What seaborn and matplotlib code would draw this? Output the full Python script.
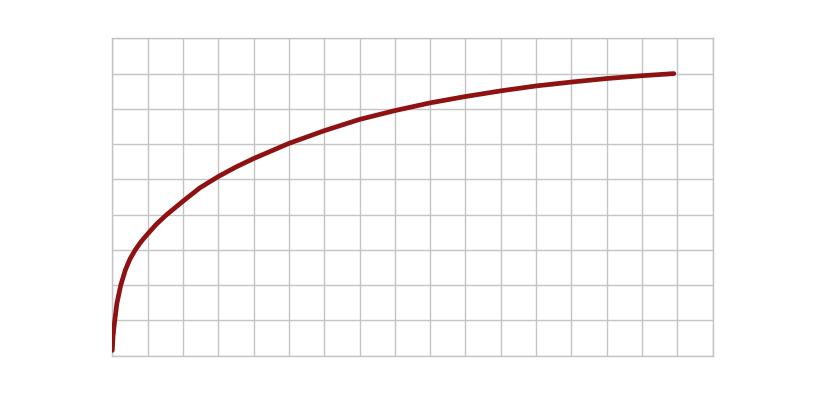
import numpy as np
import pandas as pd
import matplotlib
matplotlib.use("Agg")
import matplotlib.pyplot as plt
import seaborn as sns

# values (grid units)
x_vals = [0, 0.02, 0.07, 0.13, 0.24, 0.37, 0.5, 0.65, 0.82, 1, 1.25, 1.54, 2, 2.48, 3,
          3.5, 4, 5, 6, 7, 8, 9, 10, 11, 12, 13, 14, 15, 15.9]
y_vals = [0.15, 0.55, 1, 1.48, 2, 2.43, 2.74, 3, 3.24, 3.45, 3.73, 4, 4.38, 4.76, 5.08,
          5.35, 5.59, 6.02, 6.38, 6.70, 6.95, 7.17, 7.35, 7.51, 7.65, 7.76, 7.86, 7.94, 8.0]
x_ticks = list(range(0, 18))
y_ticks = list(range(0, 10))

df = pd.DataFrame({"x": x_vals, "y": y_vals})

sns.set_style("white")
fig = plt.figure(figsize=(8.25, 4.09), dpi=100)
ax = fig.add_axes([0.1361, 0.1303, 0.7278, 0.776])

sns.lineplot(data=df, x="x", y="y", ax=ax, color="#8f1212", linewidth=3.4,
             solid_capstyle="round", solid_joinstyle="round", sort=False, zorder=3)

ax.set_xlim(0, 17)
ax.set_ylim(0, 9)
ax.set_xticks(x_ticks)
ax.set_yticks(y_ticks)
ax.grid(True, color="#c4c4c4", linewidth=1.0)
ax.tick_params(length=0, labelbottom=False, labelleft=False)
ax.set_xlabel("")
ax.set_ylabel("")
for s in ax.spines.values():
    s.set_color("#c4c4c4")
    s.set_linewidth(1.0)

fig.savefig("out.png", dpi=100)
